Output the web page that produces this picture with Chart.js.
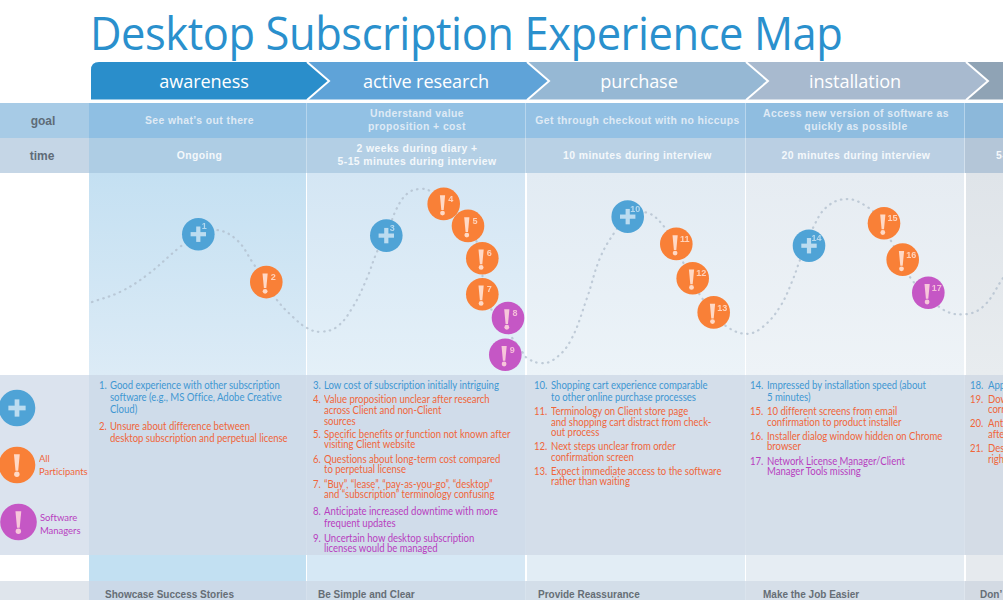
<!DOCTYPE html>
<html><head><meta charset="utf-8">
<script src="https://cdn.jsdelivr.net/npm/chart.js@4"></script>
<style>
html,body{margin:0;padding:0;background:#fff;width:1003px;height:600px;overflow:hidden}
#stage{position:absolute;left:0;top:0;width:1003px;height:600px;overflow:hidden}
#stage div,#stage span{position:absolute;white-space:nowrap}
canvas{position:absolute;left:0;top:0}
.t{line-height:12px;height:12px}
.li{font-family:"Lato",sans-serif;font-size:10.5px;letter-spacing:-.02px;transform:scaleX(.91);transform-origin:left center}
.hd{font-family:"Liberation Sans",sans-serif;font-weight:700;font-size:10.4px;color:#e3edf6;text-align:center;letter-spacing:.42px}
.ft{font-family:"Liberation Sans",sans-serif;font-weight:700;font-size:10px;color:#666e76}
</style></head><body>
<div id="stage"></div>
<canvas id="c" width="1003" height="600"></canvas>
<script>
// ---- content ----
const chartTitle = "Desktop Subscription Experience Map";
const stages = ["awareness","active research","purchase","installation",""];
const rowLabels = ["goal","time"];
const goals = [["See what’s out there"],["Understand value","proposition + cost"],["Get through checkout with no hiccups"],["Access new version of software as","quickly as possible"],[""]];
const times = [["Ongoing"],["2 weeks during diary +","5-15 minutes during interview"],["10 minutes during interview"],["20 minutes during interview"],["5-"]];
const principles = ["Showcase Success Stories","Be Simple and Clear","Provide Reassurance","Make the Job Easier","Don’"];
const legendLabels = [[],["All","Participants"],["Software","Managers"]];
// findings: [number, kind, lines]
const findings = [
 [["1.","p",["Good experience with other subscription","software (e.g., MS Office, Adobe Creative","Cloud)"]],
  ["2.","a",["Unsure about difference between","desktop subscription and perpetual license"]]],
 [["3.","p",["Low cost of subscription initially intriguing"]],
  ["4.","a",["Value proposition unclear after research","across Client and non-Client","sources"]],
  ["5.","a",["Specific benefits or function not known after","visiting Client website"]],
  ["6.","a",["Questions about long-term cost compared","to perpetual license"]],
  ["7.","a",["“Buy”, “lease”, “pay-as-you-go”, “desktop”","and “subscription” terminology confusing"]],
  ["8.","m",["Anticipate increased downtime with more","frequent updates"]],
  ["9.","m",["Uncertain how desktop subscription","licenses would be managed"]]],
 [["10.","p",["Shopping cart experience comparable","to other online purchase processes"]],
  ["11.","a",["Terminology on Client store page","and shopping cart distract from check-","out process"]],
  ["12.","a",["Next steps unclear from order","confirmation screen"]],
  ["13.","a",["Expect immediate access to the software","rather than waiting"]]],
 [["14.","p",["Impressed by installation speed (about","5 minutes)"]],
  ["15.","a",["10 different screens from email","confirmation to product installer"]],
  ["16.","a",["Installer dialog window hidden on Chrome","browser"]],
  ["17.","m",["Network License Manager/Client","Manager Tools missing"]]],
 [["18.","p",["App"]],
  ["19.","a",["Dow","corr"]],
  ["20.","a",["Ant","afte"]],
  ["21.","a",["Des","righ"]]]
];
// ---- data: experience curve (journey position, experience score) ----
const curveJourney = [2,30,57,90,108,127,147,163,176,187,203,217,230,247,263,277,287,296,307,318,330,340,354,378,388,392,394,405,420,433,437,450,463,480,497,510,525,538,558,577,586,593,603,610,624,637,657,673,690,702,710,723,737,757,777,794,802,813,822,838,852,873,893,913];
const curveScore = [36.1,41.1,49.5,63.4,69.8,71.8,66.8,55.4,46,37.1,28.7,23.3,21.4,23.9,33.8,48,61,69,82.7,90.1,92.1,91.1,84.7,73.8,64.4,57.9,40.1,29.7,19.8,10.9,8.4,5.9,7.4,16.5,38.1,57.9,70.9,78.4,80.2,71.8,64.9,55.9,48,39.6,31.2,23.9,20.4,23.9,33.8,46.2,56.9,72.8,83.3,87.1,83.3,75.2,65.3,56.9,47,40.6,32.7,30,33.8,48];
// ---- data: touchpoints ----
const touchNumbers = [1,2,3,4,5,6,7,8,9,10,11,12,13,14,15,16,17];
const touchKinds = ["p","a","p","a","a","a","a","m","m","p","a","a","a","p","a","a","m"];
const touchJourney = [108.3,176.3,296.3,353.7,378,392.3,392.3,418,415.3,537.7,586.3,602.7,623.7,719,794,812.7,838.3];
const touchScore = [69.7,46,69,84.7,73.8,57.8,40,28.2,10,78.4,64.9,47.9,31,64,75.1,57.1,40.7];

// ---- layout and style ----
const colX = [89,306.5,526,745.5,965,1003];
const kindColor = {p:"#4fa3d6",a:"#f98037",m:"#c557c5"};
const textColor = {p:"#3f97d2",a:"#f0663a",m:"#b83ec0"};
const glyphColor = {p:"#bcdcf0",a:"#ffd9c6",m:"#f7c6da"};
const stageFill = ["#2a8ecb","#5fa3d8","#96b8d4","#a8bacf","#8fa3b5"];
const stageEdge = [[91,307],[307,527],[527,746],[746,966],[966,1186]];
const stageCx = [204,426,639,855];
const colTop = ["#c4e0f2","#d4e6f4","#e2ebf3","#e6ecf2","#dfe4e9"];
const colBot = ["#dcebf6","#e4f0f8","#ecf3f8","#eef3f7","#e8ecef"];
const gapFill = ["#c2e0f2","#d6e8f5","#e2edf5","#e6edf3","#e6eaee"];
const goalFill = ["#8fbfe3","#92c1e4","#94c1e4","#8fbde0","#8cb8da"];
const timeFill = ["#aecde4","#b3cfe5","#b9d1e5","#bacfe3","#b4c6d8"];
const listFill = ["#cfdcea","#d0dcea","#d4deea","#d5dfea","#d4dce6"];
const footFill = ["#cbd9e8","#cfdce9","#d3dee9","#d6dfe9","#d3dae3"];
const listNumX = [99,313,534,750,970];
const listTxtX = [110,324,551,767,988];
const footX = [105,318,538,763,980];
const lineY = [
 [[385,397,408.5],[425.5,437.5]],
 [[385],[399,409.5,420.5],[433.5,443.5],[458.5,468.5],[483.5,493.5],[510.5,522.5],[537.5,547.5]],
 [[385,397],[410.5,421.5,431.5],[445.5,456.5],[470.5,480.5]],
 [[385,397],[410.5,421.5],[435.5,445.5],[460.5,470.5]],
 [[385],[398.5,409],[423,434],[448,459]]
];
const legendMarks = [{k:"p",x:17,y:408},{k:"a",x:17,y:465},{k:"m",x:18.5,y:522}];
const legendText = [null,{x:38.5,ys:[457.5,470.5]},{x:39.5,ys:[516.5,529.5]}];

const stage = document.getElementById("stage");
function box(x,y,w,h,bg){const d=document.createElement("div");d.style.cssText=`left:${x}px;top:${y}px;width:${w}px;height:${h}px;background:${bg}`;stage.appendChild(d);return d;}
function text(s,x,cy,cls,extra){const d=document.createElement("div");d.className="t "+cls;d.textContent=s;d.style.cssText=`left:${x}px;top:${cy-6}px;`+(extra||"");stage.appendChild(d);return d;}

// left label column
box(0,103,89,35,"#a7cbe6");box(0,138,89,35,"#c5d6e6");box(0,375,89,180,"#dbe3ee");box(0,581,89,19,"#dfe5ec");
// columns
for(let i=0;i<5;i++){
  const x=colX[i],w=colX[i+1]-x;
  box(x,103,w,35,goalFill[i]);
  box(x,138,w,35,timeFill[i]);
  box(x,173,w,202,`linear-gradient(${colTop[i]},${colBot[i]})`);
  box(x,375,w,180,listFill[i]);
  box(x,555,w,26,gapFill[i]);
  box(x,581,w,19,footFill[i]);
  if(i>0){
    box(x-.75,103,1,70,"rgba(255,255,255,.35)");
    box(x-.75,173,1.5,202,"#fff");
    box(x-.75,375,1,180,"rgba(255,255,255,.12)");
    box(x-.75,555,1.5,26,"#fff");
    box(x-.75,581,1,19,"rgba(255,255,255,.2)");
  }
}
// chevrons
const NS="http://www.w3.org/2000/svg";
const svg=document.createElementNS(NS,"svg");
svg.setAttribute("width",1003);svg.setAttribute("height",104);svg.style.cssText="position:absolute;left:0;top:0";
for(let i=4;i>=0;i--){
  const [a,b]=stageEdge[i],p=document.createElementNS(NS,"path");
  const left=i===0?`M${a} 100 L${a} 70 Q${a} 62 ${a+8} 62`:`M${a-8} 62`;
  const close=i===0?"Z":`L${a-8} 100 Z`;
  p.setAttribute("d",`${left} L${b} 62 L${b+22} 81 L${b} 100 ${close}`);
  p.setAttribute("fill",stageFill[i]);
  svg.appendChild(p);
  const w=document.createElementNS(NS,"path");
  w.setAttribute("d",`M${b} 62 L${b+22} 81 L${b} 100`);
  w.setAttribute("fill","none");w.setAttribute("stroke","#fff");w.setAttribute("stroke-width","2");
  svg.appendChild(w);
}
const under=document.createElementNS(NS,"rect");under.setAttribute("x",91);under.setAttribute("y",99.5);under.setAttribute("width",912);under.setAttribute("height",3.5);under.setAttribute("fill","#fff");svg.appendChild(under);
stage.appendChild(svg);
// title
const tt=document.createElement("div");tt.textContent=chartTitle;
tt.style.cssText='left:90px;top:3px;font:400 45px/60px "Open Sans",sans-serif;color:#2a90cd;letter-spacing:-.45px;transform:scaleX(.966);transform-origin:left center';stage.appendChild(tt);
// stage labels
stages.forEach((s,i)=>{if(!s)return;const d=document.createElement("div");d.textContent=s;
 d.style.cssText=`left:${stageCx[i]-100}px;width:200px;top:68px;text-align:center;font:400 18.4px/26px "Open Sans",sans-serif;color:#fff;letter-spacing:-.1px;transform:scaleX(.985)`;stage.appendChild(d);});
// row labels
text(rowLabels[0],0,120.5,"hd",'width:86px;color:#5e6b78;font-size:12px;letter-spacing:0');
text(rowLabels[1],0,155.5,"hd",'width:84px;color:#5e6b78;font-size:12px;letter-spacing:0');
// goals and times
const hdCx=[199.5,417,637.5,856,984];
function hdRows(rows,cy,gap,col){rows.forEach((ls,i)=>{ls.forEach((s,j)=>{if(!s)return;
  const y=cy+(j-(ls.length-1)/2)*gap;
  if(i===4) text(s,996,y,"hd",`text-align:left;color:${col}`);
  else text(s,hdCx[i]-130,y,"hd",`width:260px;color:${col}`);});});}
hdRows(goals,120.5,13,"#dfeaf5");hdRows(times,155.5,13,"#f4f8fb");
// finding lists
findings.forEach((col,i)=>col.forEach((f,j)=>{
  const c=textColor[f[1]];
  text(f[0],listNumX[i],lineY[i][j][0],"li",`color:${c}`);
  f[2].forEach((s,k)=>text(s,listTxtX[i],lineY[i][j][k],"li",`color:${c}`));
}));
// footer
principles.forEach((s,i)=>text(s,footX[i],595,"ft"));
// legend text
legendLabels.forEach((ls,i)=>ls.forEach((s,j)=>text(s,legendText[i].x,legendText[i].ys[j],"li",`color:${textColor[legendMarks[i].k]};font-size:10.4px`)));

// ---- chart ----
function drawGlyph(ctx,kind,x,y,s){
  ctx.fillStyle=glyphColor[kind];
  if(kind==="p"){
    ctx.fillRect(x-7.7*s,y-2.1*s,15.4*s,4.2*s);
    ctx.fillRect(x-2.1*s,y-7.7*s,4.2*s,15.4*s);
  }else{
    x-=1.2*s;
    ctx.beginPath();
    ctx.moveTo(x-2.6*s,y-8.7*s);ctx.lineTo(x+2.6*s,y-8.7*s);ctx.lineTo(x+1.2*s,y+6*s);ctx.lineTo(x-1.2*s,y+6*s);ctx.closePath();ctx.fill();
    ctx.beginPath();ctx.arc(x,y+9.2*s,2.4*s,0,Math.PI*2);ctx.fill();
  }
}
const glyphPlugin={id:"glyphs",afterDatasetsDraw(chart){
  const ctx=chart.ctx;ctx.save();
  chart.getDatasetMeta(1).data.forEach((pt,i)=>{
    const k=touchKinds[i];drawGlyph(ctx,k,pt.x,pt.y,1);
    ctx.font='700 9px "Liberation Sans",sans-serif';ctx.textAlign="center";ctx.textBaseline="middle";
    ctx.fillStyle=glyphColor[k];ctx.globalAlpha=.92;
    ctx.fillText(String(touchNumbers[i]),pt.x+(k==="p"?(touchNumbers[i]>9?7.5:6):(touchNumbers[i]>9?8.5:7)),pt.y+(k==="p"?-7.5:-4.3));
    ctx.globalAlpha=1;
  });
  legendMarks.forEach(m=>{
    ctx.beginPath();ctx.arc(m.x,m.y,18.3,0,Math.PI*2);ctx.fillStyle=kindColor[m.k];ctx.fill();
    drawGlyph(ctx,m.k,m.x+(m.k==="p"?0:1.2),m.y+(m.k==="p"?0:-1),1.12);
  });
  ctx.restore();
}};
new Chart(document.getElementById("c"),{
  type:"scatter",
  data:{datasets:[
    {type:"line",order:2,label:"Experience",data:curveJourney.map((x,i)=>({x,y:curveScore[i]})),borderColor:"rgba(176,190,204,.75)",borderWidth:2.2,borderDash:[.5,5.4],borderCapStyle:"round",tension:.4,pointRadius:0,fill:false,clip:false},
    {order:1,label:"Touchpoints",data:touchJourney.map((x,i)=>({x,y:touchScore[i]})),pointRadius:16.3,pointHoverRadius:16.3,borderWidth:0,pointBorderWidth:0,backgroundColor:touchKinds.map(k=>kindColor[k]),clip:false}
  ]},
  options:{responsive:false,animation:false,events:[],
    layout:{autoPadding:false,padding:{left:90,top:173,right:0,bottom:225}},
    plugins:{legend:{display:false},tooltip:{enabled:false},title:{display:false}},
    scales:{x:{type:"linear",min:0,max:913,display:false},y:{type:"linear",min:0,max:100,display:false}}
  },
  plugins:[glyphPlugin]
});
</script></body></html>
